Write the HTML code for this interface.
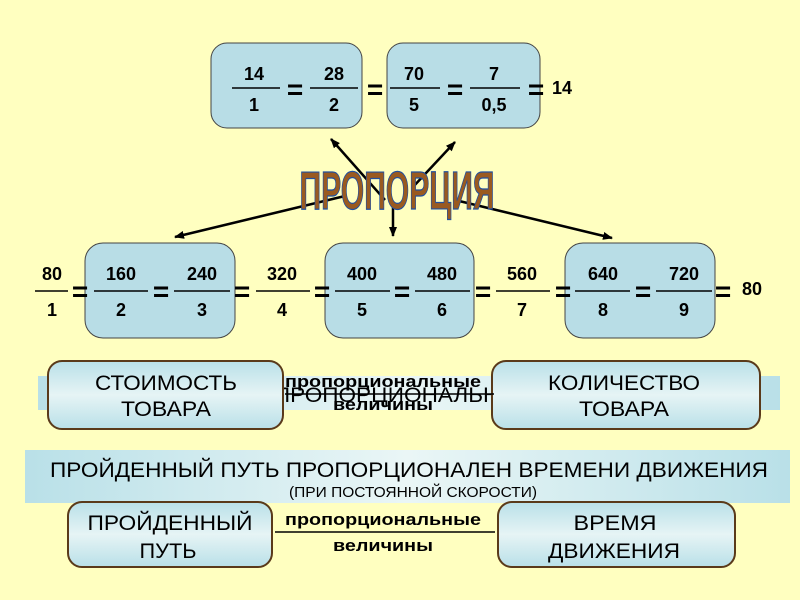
<!DOCTYPE html>
<html><head><meta charset="utf-8"><style>
body{margin:0;background:#ffffc0;}
svg{display:block;font-family:"Liberation Sans",sans-serif;}
</style></head><body>
<svg width="800" height="600" viewBox="0 0 800 600">
<defs>
<linearGradient id="bx" x1="0" y1="0" x2="0" y2="1"><stop offset="0" stop-color="#b9e0e8"/><stop offset="0.5" stop-color="#e6f4f5"/><stop offset="1" stop-color="#b9e0e8"/></linearGradient>
<linearGradient id="bar" x1="0" y1="0" x2="1" y2="0"><stop offset="0" stop-color="#b9e0e8"/><stop offset="0.5" stop-color="#eaf6f6"/><stop offset="1" stop-color="#b9e0e8"/></linearGradient>
<marker id="ah" markerWidth="10" markerHeight="8" refX="9" refY="4" orient="auto" markerUnits="userSpaceOnUse"><path d="M0,0 L10,4 L0,8 Z" fill="#000"/></marker>
</defs>
<rect width="800" height="600" fill="#ffffc0"/>
<rect x="211" y="43" width="151" height="85" rx="16" fill="#b8dde6" stroke="#444" stroke-width="1"/>
<rect x="387" y="43" width="153" height="85" rx="16" fill="#b8dde6" stroke="#444" stroke-width="1"/>
<g font-size="18" font-weight="bold" text-anchor="middle" fill="#000">
<text x="254" y="80">14</text><text x="254" y="111">1</text><line x1="232" y1="88" x2="280" y2="88" stroke="#000" stroke-width="1.5"/>
<text x="334" y="80">28</text><text x="334" y="111">2</text><line x1="310" y1="88" x2="358" y2="88" stroke="#000" stroke-width="1.5"/>
<text x="414" y="80">70</text><text x="414" y="111">5</text><line x1="390" y1="88" x2="440" y2="88" stroke="#000" stroke-width="1.5"/>
<text x="494" y="80">7</text><text x="494" y="111">0,5</text><line x1="470" y1="88" x2="520" y2="88" stroke="#000" stroke-width="1.5"/>
<text x="552" y="94" text-anchor="start">14</text>
</g>
<g font-size="28" font-weight="bold" text-anchor="middle">
<text x="295" y="99">=</text><text x="375" y="99">=</text><text x="455" y="99">=</text><text x="536" y="99">=</text>
</g>
<g stroke="#000" stroke-width="2.5" fill="none" marker-end="url(#ah)">
<line x1="385" y1="200" x2="331" y2="139"/>
<line x1="412" y1="188" x2="455" y2="142"/>
<line x1="345" y1="196" x2="175" y2="237"/>
<line x1="393" y1="205" x2="393" y2="236"/>
<line x1="455" y1="200" x2="612" y2="238"/>
</g>
<text x="397" y="209" text-anchor="middle" font-size="54" font-weight="bold" fill="#9a5a20" stroke="#2050a0" stroke-width="1.2" textLength="195" lengthAdjust="spacingAndGlyphs">ПРОПОРЦИЯ</text>
<rect x="85" y="243" width="150" height="95" rx="18" fill="#b8dde6" stroke="#444"/>
<rect x="325" y="243" width="149" height="95" rx="18" fill="#b8dde6" stroke="#444"/>
<rect x="565" y="243" width="150" height="95" rx="18" fill="#b8dde6" stroke="#444"/>
<g stroke="#000" stroke-width="1.5">
<line x1="35" y1="291" x2="68" y2="291"/><line x1="94" y1="291" x2="148" y2="291"/><line x1="174" y1="291" x2="230" y2="291"/>
<line x1="256" y1="291" x2="310" y2="291"/><line x1="335" y1="291" x2="390" y2="291"/><line x1="415" y1="291" x2="470" y2="291"/>
<line x1="496" y1="291" x2="550" y2="291"/><line x1="575" y1="291" x2="630" y2="291"/><line x1="656" y1="291" x2="712" y2="291"/>
</g>
<g font-size="18" font-weight="bold" text-anchor="middle">
<text x="52" y="280">80</text><text x="52" y="316">1</text>
<text x="121" y="280">160</text><text x="121" y="316">2</text>
<text x="202" y="280">240</text><text x="202" y="316">3</text>
<text x="282" y="280">320</text><text x="282" y="316">4</text>
<text x="362" y="280">400</text><text x="362" y="316">5</text>
<text x="442" y="280">480</text><text x="442" y="316">6</text>
<text x="522" y="280">560</text><text x="522" y="316">7</text>
<text x="603" y="280">640</text><text x="603" y="316">8</text>
<text x="684" y="280">720</text><text x="684" y="316">9</text>
<text x="752" y="295">80</text>
</g>
<g font-size="28" font-weight="bold" text-anchor="middle">
<text x="80" y="301">=</text><text x="161" y="301">=</text><text x="242" y="301">=</text><text x="322" y="301">=</text><text x="402" y="301">=</text><text x="483" y="301">=</text><text x="563" y="301">=</text><text x="643" y="301">=</text><text x="723" y="301">=</text>
</g>
<rect x="38" y="376" width="742" height="34" fill="url(#bar)"/>
<text x="390" y="402" text-anchor="middle" font-size="21" textLength="560" lengthAdjust="spacingAndGlyphs">ЦЕНА ТОВАРА ПРОПОРЦИОНАЛЬНА КОЛИЧЕСТВУ</text>
<rect x="48" y="361" width="235" height="68" rx="14" fill="url(#bx)" stroke="#5a3a1a" stroke-width="2"/>
<rect x="492" y="361" width="268" height="68" rx="14" fill="url(#bx)" stroke="#5a3a1a" stroke-width="2"/>
<g font-size="21" text-anchor="middle" lengthAdjust="spacingAndGlyphs">
<text x="166" y="390" textLength="142" lengthAdjust="spacingAndGlyphs">СТОИМОСТЬ</text>
<text x="166" y="416" textLength="90" lengthAdjust="spacingAndGlyphs">ТОВАРА</text>
<text x="624" y="390" textLength="152" lengthAdjust="spacingAndGlyphs">КОЛИЧЕСТВО</text>
<text x="624" y="416" textLength="90" lengthAdjust="spacingAndGlyphs">ТОВАРА</text>
</g>
<text x="383" y="387" text-anchor="middle" font-size="17" font-weight="bold" textLength="196" lengthAdjust="spacingAndGlyphs">пропорциональные</text>
<text x="383" y="410" text-anchor="middle" font-size="17" font-weight="bold" textLength="100" lengthAdjust="spacingAndGlyphs">величины</text>
<line x1="285" y1="394" x2="494" y2="394" stroke="#000" stroke-width="1.5"/>
<rect x="25" y="450" width="765" height="53" fill="url(#bar)"/>
<text x="409" y="477" text-anchor="middle" font-size="21" textLength="718" lengthAdjust="spacingAndGlyphs">ПРОЙДЕННЫЙ ПУТЬ ПРОПОРЦИОНАЛЕН ВРЕМЕНИ ДВИЖЕНИЯ</text>
<text x="413" y="497" text-anchor="middle" font-size="15" textLength="248" lengthAdjust="spacingAndGlyphs">(ПРИ ПОСТОЯННОЙ СКОРОСТИ)</text>
<rect x="68" y="502" width="204" height="65" rx="14" fill="url(#bx)" stroke="#5a3a1a" stroke-width="2"/>
<rect x="498" y="502" width="237" height="65" rx="14" fill="url(#bx)" stroke="#5a3a1a" stroke-width="2"/>
<text x="170" y="530" text-anchor="middle" font-size="21" textLength="165" lengthAdjust="spacingAndGlyphs">ПРОЙДЕННЫЙ</text>
<text x="168" y="558" text-anchor="middle" font-size="21" textLength="57" lengthAdjust="spacingAndGlyphs">ПУТЬ</text>
<text x="615" y="530" text-anchor="middle" font-size="21" textLength="83" lengthAdjust="spacingAndGlyphs">ВРЕМЯ</text>
<text x="614" y="558" text-anchor="middle" font-size="21" textLength="132" lengthAdjust="spacingAndGlyphs">ДВИЖЕНИЯ</text>
<text x="383" y="525" text-anchor="middle" font-size="17" font-weight="bold" textLength="196" lengthAdjust="spacingAndGlyphs">пропорциональные</text>
<text x="383" y="551" text-anchor="middle" font-size="17" font-weight="bold" textLength="100" lengthAdjust="spacingAndGlyphs">величины</text>
<line x1="275" y1="532" x2="495" y2="532" stroke="#000" stroke-width="1.5"/>
</svg>
</body></html>
